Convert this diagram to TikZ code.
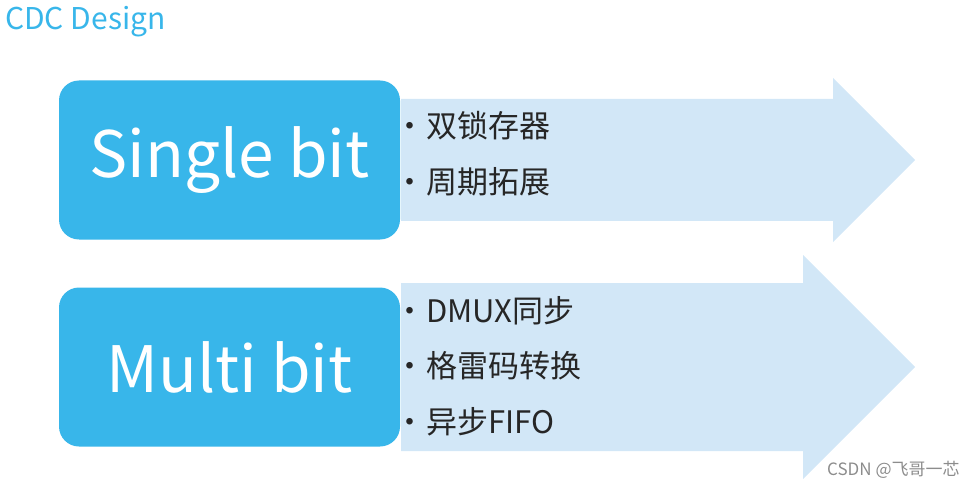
\documentclass[tikz,border=0pt]{standalone}
\usepackage{fontspec}
\setmainfont{Noto Sans CJK SC}
\usepackage{tikz}
\usetikzlibrary{positioning}
\definecolor{cdcazul}{RGB}{56,182,234}
\definecolor{cdcclaro}{RGB}{210,231,247}
\definecolor{cdctexto}{RGB}{38,38,38}
\tikzstyle{bloque} = [fill=cdcazul, rounded corners=20pt, minimum width=341pt, minimum height=159pt, inner sep=0pt]
\tikzstyle{rotulo} = [text=white, font=\fontsize{64}{64}\selectfont, inner sep=0pt]
\tikzstyle{punto} = [text=cdctexto, font=\fontsize{31}{31}\selectfont, anchor=west, inner sep=0pt]
\tikzstyle{flecha} = [fill=cdcclaro]

\begin{document}
\begin{tikzpicture}[x=1pt, y=-1pt]
	\useasboundingbox (0,0) rectangle (977,489);
	\node[text=cdcazul, font=\fontsize{30}{30}\selectfont, anchor=west, inner sep=0pt] (titulo) at (5,22) {CDC Design};
	% flechas
	\fill[flecha] (401,99) -- (833,99) -- (833,78) -- (915,160) -- (833,242) -- (833,221) -- (401,221) -- cycle;
	\fill[flecha] (401,283) -- (803,283) -- (803,255) -- (915,367) -- (803,479) -- (803,451) -- (401,451) -- cycle;
	% bloques
	\node[bloque] (single) at (229.5,160) {};
	\node[rotulo] at (single) {Single bit};
	\node[bloque] (multi) at (229.5,367) {};
	\node[rotulo] at (multi) {Multi bit};
	% puntos
	\node[punto] (p1) at (394,126) {\textbullet\hspace{1pt}双锁存器};
	\node[punto] (p2) at (394,182) {\textbullet\hspace{1pt}周期拓展};
	\node[punto] (p3) at (394,311) {\textbullet\hspace{1pt}DMUX同步};
	\node[punto] (p4) at (394,366) {\textbullet\hspace{1pt}格雷码转换};
	\node[punto] (p5) at (394,422) {\textbullet\hspace{1pt}异步FIFO};
	\node[text=black!45, font=\fontsize{17}{17}\selectfont, anchor=west, inner sep=0pt] (marca) at (827,470) {CSDN @飞哥一芯};
\end{tikzpicture}
\end{document}
